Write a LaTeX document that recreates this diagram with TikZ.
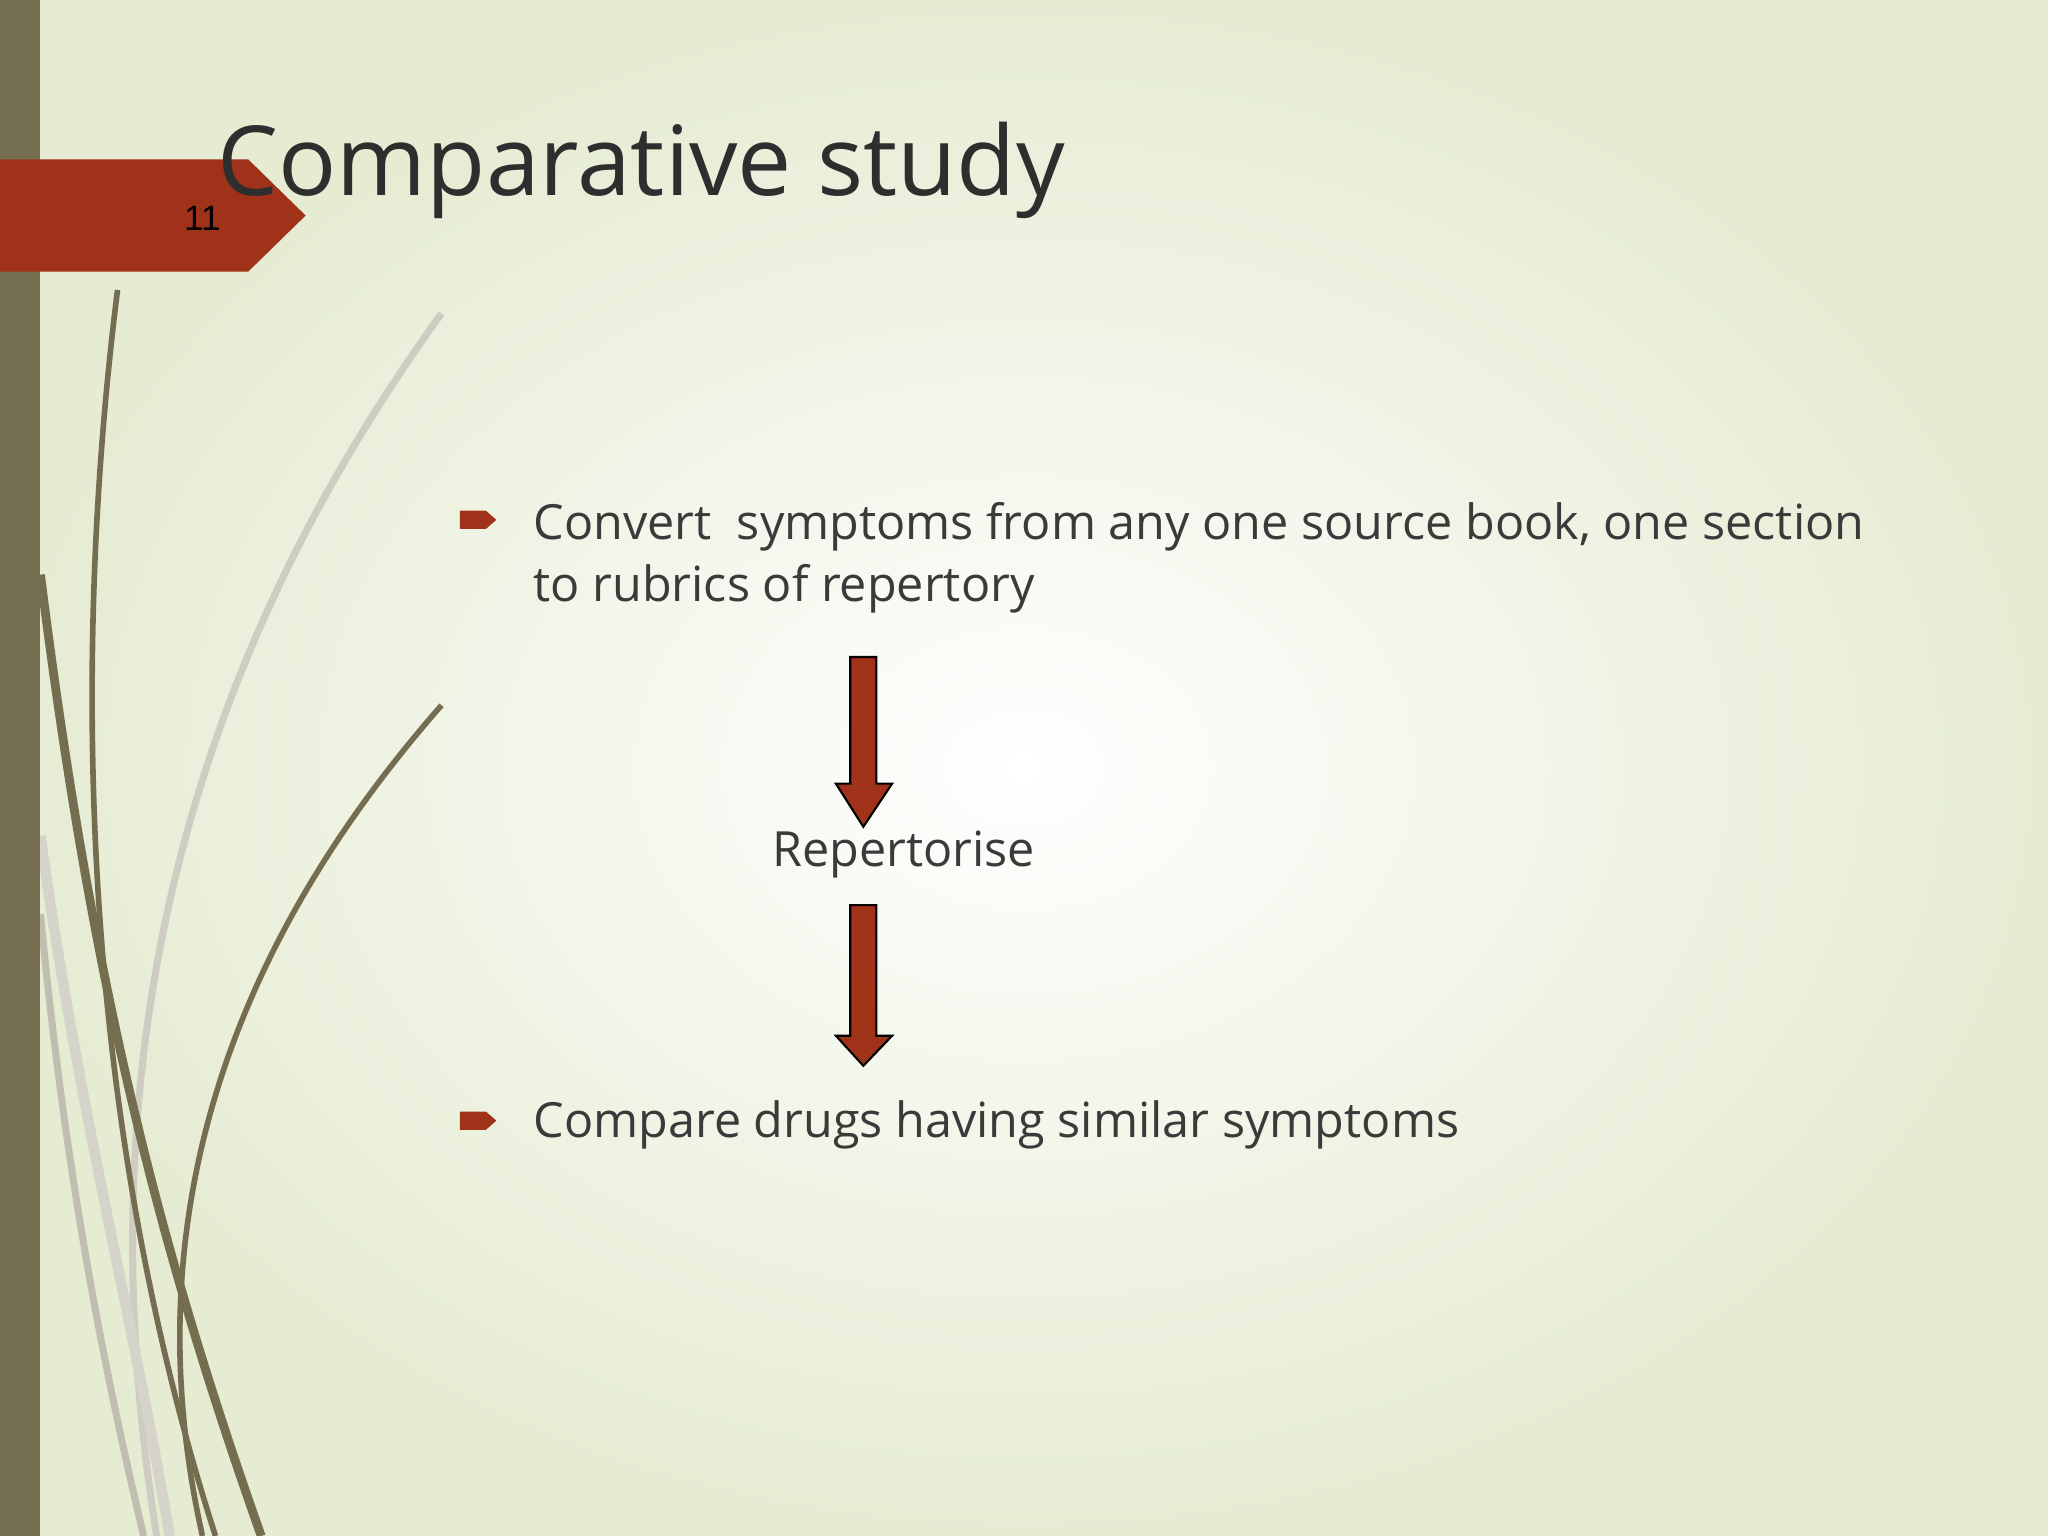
\documentclass[tikz,border=0pt]{standalone}
\usepackage{fontspec}
\setmainfont{Open Sans}
\newfontfamily\numfont{Liberation Sans}
\definecolor{olive}{HTML}{756D50}
\definecolor{tagred}{HTML}{A0321A}
\definecolor{bgg}{HTML}{DDE6C4}
\definecolor{txt}{HTML}{3A3A3A}
\begin{document}
\begin{tikzpicture}[x=0.013061cm,y=-0.013061cm,
  curve/.style={olive,line width=#1},
  blockarrow/.style={fill=tagred,draw=black,line width=0.6pt},
  bullet/.style={fill=tagred,draw=none},
  body/.style={anchor=west,text=txt,font=\fontsize{13.8}{17.6}\selectfont,inner sep=0pt,align=left}]
\useasboundingbox (0,0) rectangle (1568,1176);
\shade[inner color=white,outer color=bgg] (0,0) rectangle (1568,1176);
\fill[white,opacity=0.25] (0,0) rectangle (1568,1176);
% curves
\draw[olive!35,line width=2pt] (338,240) .. controls (150,500) and (60,800) .. (120,1176);
\draw[olive!30,line width=3pt] (31,640) .. controls (60,850) and (100,1000) .. (130,1176);
\draw[curve=1.6pt] (338,540) .. controls (180,720) and (100,930) .. (155,1176);
\draw[curve=1.6pt] (90,222) .. controls (55,500) and (60,850) .. (165,1176);
\draw[curve=2.5pt] (31,440) .. controls (70,750) and (120,950) .. (200,1176);
\draw[olive!45,line width=2pt] (31,700) .. controls (50,900) and (80,1050) .. (110,1176);
% left bar
\fill[olive] (0,0) rectangle (31,1176);
% tag
\fill[tagred] (0,122) -- (190,122) -- (234,165) -- (190,208) -- (0,208) -- cycle;
\node[font=\numfont\fontsize{10}{12}\selectfont,text=black] (num) at (155,167) {11};
\node[anchor=base west,inner sep=0pt,text=txt!80!black,font=\fontsize{27.5}{33}\selectfont] (title) at (166,150) {Comparative study};
% bullets
\fill[bullet] (352,391) -- (372,391) -- (380,398) -- (372,405) -- (352,405) -- cycle;
\node[body] (b1) at (408,427) {Convert\ \ symptoms from any one source book, one section\\to rubrics of repertory};
\fill[bullet] (352,851) -- (372,851) -- (380,858) -- (372,865) -- (352,865) -- cycle;
\node[body] (b2) at (408,861) {Compare drugs having similar symptoms};
\node[text=txt,font=\fontsize{13.8}{17.6}\selectfont,inner sep=0pt] (rep) at (692,654) {Repertorise};
% block arrows
\draw[blockarrow] (651,503) -- (671,503) -- (671,600) -- (683,600) -- (661,633) -- (640,600) -- (651,600) -- cycle;
\draw[blockarrow] (651,693) -- (671,693) -- (671,793) -- (683,793) -- (661,816) -- (640,793) -- (651,793) -- cycle;
\end{tikzpicture}
\end{document}
